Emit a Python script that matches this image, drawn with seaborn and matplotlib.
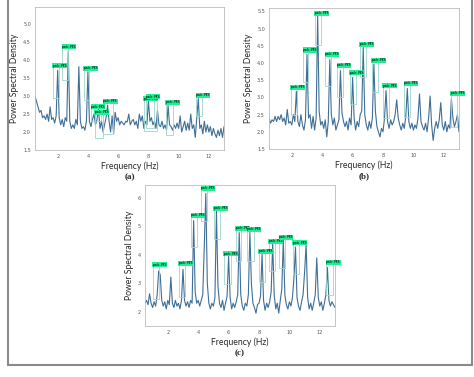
import numpy as np
import pandas as pd
import matplotlib
matplotlib.use('Agg')
import matplotlib.pyplot as plt
import seaborn as sns
from matplotlib.patches import Rectangle
from matplotlib.lines import Line2D

# frequency grid (Hz), 0.5 .. 13.0
freq = np.round(np.arange(0.5, 13.01, 0.1), 1)

psd_a = [3.0, 2.85, 2.7, 2.55, 2.6, 2.4,
         2.45, 2.35, 2.5, 2.3, 2.7, 2.35, 2.4, 2.25, 2.45,
         3.72, 2.4, 2.2, 2.35, 2.15, 2.4, 2.3, 4.25, 2.3, 2.1,
         2.2, 2.1, 2.35, 2.2, 3.82, 2.3, 2.1, 2.15, 2.05, 2.3,
         3.68, 2.3, 2.15, 2.35, 2.5, 2.2, 2.35, 2.62, 2.1, 2.3,
         2.0, 2.2, 2.4, 2.75, 2.3, 2.0, 2.45, 1.95, 2.55, 2.3,
         2.4, 2.2, 2.3, 2.25, 2.2, 2.3, 2.28, 2.5, 2.2, 2.3,
         2.35, 2.2, 2.3, 2.1, 2.5, 2.3, 2.45, 2.1, 2.3, 2.2,
         2.88, 2.3, 2.4, 2.2, 2.3, 2.1, 2.6, 2.2, 2.15, 2.3,
         2.1, 2.2, 2.05, 2.74, 2.2, 2.15, 2.05, 2.2, 2.1, 2.25,
         2.1, 2.45, 2.0, 2.15, 2.3, 2.05, 2.25, 2.05, 2.5, 2.1,
         2.2, 1.85, 2.4, 2.93, 2.1, 2.2, 1.95, 2.3, 2.0, 2.2,
         2.0, 2.15, 1.9, 2.1, 1.95, 1.85, 2.05, 1.9, 2.1, 1.85,
         2.15]

psd_b = [2.4, 2.25, 2.35, 2.3, 2.45, 2.3,
         2.45, 2.35, 2.5, 2.3, 2.4, 2.2, 2.65, 2.25, 2.3,
         2.2, 2.5, 2.3, 3.18, 2.3, 2.15, 2.5, 2.2, 2.05, 2.35,
         4.25, 2.4, 2.5, 2.1, 2.45, 2.05, 2.4, 5.37, 2.6, 2.2,
         2.3, 2.1, 2.35, 1.85, 2.3, 4.1, 2.5, 2.2, 2.4, 2.05,
         2.2, 2.35, 3.78, 2.55, 2.3, 2.15, 2.3, 2.05, 2.4, 2.2,
         3.58, 2.4, 2.05, 2.3, 2.15, 2.5, 2.6, 4.45, 2.5, 2.2,
         2.05, 2.3, 2.1, 2.4, 3.97, 2.6, 2.15, 2.0, 1.85, 2.1,
         2.0, 2.4, 3.2, 2.3, 2.1, 2.35, 2.2, 2.3, 2.5, 2.93,
         2.4, 2.2, 2.05, 2.25, 2.1, 2.45, 3.26, 2.3, 2.1, 2.25,
         2.05, 2.2, 2.1, 2.4, 3.1, 2.3, 2.15, 2.05, 2.25, 2.0,
         2.4, 3.04, 2.2, 1.75, 2.1, 2.3, 2.1, 2.35, 2.85, 2.2,
         2.05, 2.3, 2.0, 2.2, 2.1, 2.97, 2.4, 2.15, 2.3, 2.5,
         2.0]

psd_c = [2.3, 2.4, 2.25, 2.63, 2.3, 2.15,
         2.35, 2.2, 2.6, 3.43, 3.3, 2.4, 2.2, 2.35, 2.1,
         2.4, 2.25, 3.22, 2.3, 2.15, 2.4, 2.2, 2.3, 2.1, 2.4,
         3.49, 2.4, 2.2, 2.35, 2.15, 2.4, 2.3, 5.2, 2.7, 2.3,
         2.4, 2.2, 2.4, 2.6, 4.3, 6.15, 3.0, 2.3, 2.1, 2.3,
         2.2, 2.5, 5.53, 2.9, 2.3, 2.15, 2.4, 2.05, 2.3, 2.55,
         3.94, 2.5, 2.1, 2.3, 2.15, 2.35, 2.6, 4.78, 2.6, 2.2,
         2.05, 2.3, 2.2, 2.6, 4.78, 3.0, 2.3, 2.15, 1.95, 2.25,
         2.3, 2.55, 4.02, 2.4, 2.05, 2.3, 2.15, 2.35, 2.7, 4.42,
         2.6, 2.1, 2.3, 1.95, 2.4, 2.8, 4.52, 2.6, 2.25, 2.1,
         2.35, 2.2, 2.5, 3.2, 4.27, 2.5, 2.2, 2.05, 2.35, 2.6,
         3.4, 4.36, 2.5, 2.1, 2.3, 2.05, 2.3, 2.6, 3.89, 2.5,
         2.2, 2.35, 2.05, 2.3, 2.6, 3.56, 2.4, 2.2, 2.35, 2.25,
         2.15]

# detected peak boxes: left, right, top, bottom (data coords)
box_a = [(1.68, 2.12, 3.84, 2.96), (2.30, 2.67, 4.38, 3.44), (3.71, 4.10, 3.78, 2.88),
         (4.22, 4.88, 2.71, 2.30), (4.45, 5.00, 2.55, 1.83), (5.03, 5.65, 2.86, 1.94),
         (7.68, 8.60, 2.93, 2.04), (7.85, 8.40, 2.98, 2.10), (9.14, 9.62, 2.83, 1.92),
         (11.17, 11.55, 3.02, 2.46)]
box_b = [(1.94, 2.34, 3.30, 2.49), (2.75, 3.08, 4.38, 3.46), (3.52, 3.91, 5.45, 4.53),
         (4.19, 4.60, 4.25, 3.33), (4.98, 5.39, 3.93, 3.00), (5.81, 6.20, 3.72, 2.80),
         (6.48, 6.86, 4.55, 3.58), (7.25, 7.69, 4.08, 3.15), (7.99, 8.38, 3.34, 2.40),
         (9.41, 9.80, 3.41, 2.44), (12.47, 12.86, 3.12, 2.15)]
box_c = [(1.01, 1.41, 3.65, 2.44), (2.73, 3.10, 3.70, 2.52), (3.54, 3.93, 5.39, 4.27),
         (4.20, 4.57, 6.33, 5.20), (5.03, 5.41, 5.64, 4.56), (5.69, 6.13, 4.04, 2.96),
         (6.46, 6.84, 4.93, 3.78), (7.23, 7.65, 4.90, 3.78), (8.00, 8.40, 4.13, 3.06),
         (8.66, 9.05, 4.48, 3.44), (9.32, 9.71, 4.61, 3.52), (10.24, 10.64, 4.42, 3.31),
         (12.44, 12.84, 3.74, 2.60)]

peak_label = 'peak : 99%'

sns.set_style('white')
plt.rcParams['font.family'] = ['Lato', 'DejaVu Sans']

line_col = '#3f6f96'
box_col = '#9ed6cc'
tag_col = '#22ef93'


def draw_panel(ax, psd, boxes, ylim, yticks, yfmt, letter):
    sns.lineplot(x=freq, y=psd, ax=ax, color=line_col, linewidth=0.8)
    for (l, r, t, b) in boxes:
        ax.add_patch(Rectangle((l, b), r - l, t - b, fill=False,
                               edgecolor=box_col, linewidth=0.6, zorder=3))
        ax.text(l, t, peak_label, fontsize=2.0, fontweight='bold', color='black',
                va='center', ha='left', zorder=4, clip_on=False,
                bbox=dict(facecolor=tag_col, edgecolor='none', pad=0.4))
    ax.set_xlim(0.5, 13.0)
    ax.set_ylim(*ylim)
    ax.set_xticks([2, 4, 6, 8, 10, 12])
    ax.set_yticks(yticks)
    ax.set_yticklabels([yfmt % v for v in yticks])
    ax.tick_params(labelsize=3.5, colors='#555555', length=1.5, width=0.4, pad=1.5)
    for lab in ax.get_xticklabels() + ax.get_yticklabels():
        lab.set_family('DejaVu Sans')
    for s in ax.spines.values():
        s.set_color('#bbbbbb')
        s.set_linewidth(0.6)
    ax.set_xlabel('Frequency (Hz)', fontsize=6.2, labelpad=1.5)
    ax.set_ylabel('Power Spectral Density', fontsize=6.2, labelpad=3)
    ax.text(0.5, -0.19, letter, transform=ax.transAxes, ha='center', va='center',
            fontsize=6.5, fontweight='bold', family='Liberation Serif')


fig = plt.figure(figsize=(4.74, 3.77), dpi=100, facecolor='white')
W, H = 474.0, 377.0

ax_a = fig.add_axes([35 / W, 1 - 150 / H, (224 - 35) / W, (150 - 7) / H])
draw_panel(ax_a, psd_a, box_a, (1.5, 5.48), [1.5, 2.0, 2.5, 3.0, 3.5, 4.0, 4.5, 5.0], '%.1f', '(a)')

ax_b = fig.add_axes([269 / W, 1 - 149 / H, (459 - 269) / W, (149 - 8) / H])
draw_panel(ax_b, psd_b, box_b, (1.5, 5.6), [1.5, 2.0, 2.5, 3.0, 3.5, 4.0, 4.5, 5.0, 5.5], '%.1f', '(b)')

ax_c = fig.add_axes([145 / W, 1 - 326 / H, (335 - 145) / W, (326 - 185) / H])
draw_panel(ax_c, psd_c, box_c, (1.5, 6.45), [2, 3, 4, 5, 6], '%d', '(c)')

# outer frame of the figure
frame = dict(transform=fig.transFigure, color='#8a8a8a', linewidth=1.5)
fig.add_artist(Line2D([8 / W, 8 / W], [1, 1 - 365 / H], **frame))
fig.add_artist(Line2D([472 / W, 472 / W], [1, 1 - 365 / H], **frame))
fig.add_artist(Line2D([8 / W, 472 / W], [1 - 365 / H, 1 - 365 / H], **frame))

fig.savefig('out.png', dpi=100, facecolor='white')
